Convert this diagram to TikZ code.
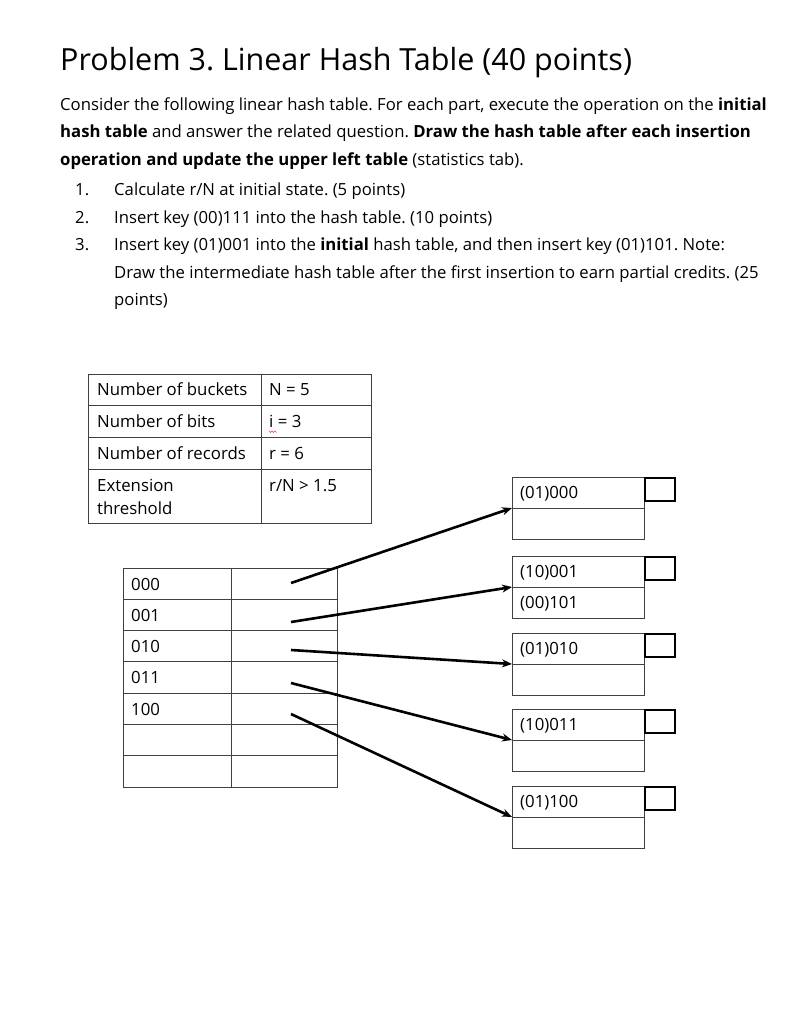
\documentclass[tikz,border=0pt]{standalone}
\usepackage{fontspec}
\setmainfont{Open Sans}
\usetikzlibrary{arrows.meta, positioning}
\frenchspacing

\begin{document}
\begin{tikzpicture}[x=1pt, y=-1pt,
  txt/.style={anchor=base west, inner sep=0pt, font=\fontsize{16.7}{20}\selectfont},
  tab/.style={anchor=base west, inner sep=0pt, font=\fontsize{16.8}{20}\selectfont},
  head/.style={anchor=base west, inner sep=0pt, font=\fontsize{30.5}{34}\selectfont},
  grid/.style={draw=black!75, line width=1pt},
  cell/.style={grid, anchor=north west, inner sep=0pt, outer sep=0pt, minimum height=31.3pt},
  bkt/.style={grid, anchor=north west, inner sep=0pt, outer sep=0pt, minimum width=132pt, minimum height=62pt},
  flag/.style={draw, line width=1.6pt, anchor=north west, inner sep=0pt, minimum width=30pt, minimum height=23pt},
  ptr/.style={line width=2.6pt, -{Stealth[length=10pt, width=8pt]}},
]
  \useasboundingbox[fill=white] (0,0) rectangle (811,1024);
  % --- heading and question text ---
  \node[head] (title) at (60,71) {Problem 3. Linear Hash Table (40 points)};
  \node[txt] (l1) at (60,111) {Consider the following linear hash table. For each part, execute the operation on the \textbf{initial}};
  \node[txt] (l2) at (60,138) {\textbf{hash table} and answer the related question. \textbf{Draw the hash table after each insertion}};
  \node[txt] (l3) at (60,166) {\textbf{operation and update the upper left table} (statistics tab).};
  \foreach \n/\y/\s in {1/196/{Calculate r/N at initial state. (5 points)},
                        2/223/{Insert key (00)111 into the hash table. (10 points)},
                        3/250/{Insert key (01)001 into the \textbf{initial} hash table, and then insert key (01)101. Note:}}{
    \node[txt] (n\n) at (75,\y) {\n.};
    \node[txt] (q\n) at (114,\y) {\s};
  }
  \node[txt] (q4) at (114,278) {Draw the intermediate hash table after the first insertion to earn partial credits. (25};
  \node[txt] (q5) at (114,305) {points)};

  % --- statistics table ---
  \draw[grid] (88,374) rectangle (371,523);
  \draw[grid] (261,374) -- (261,523);
  \foreach \y in {405,437,469} \draw[grid] (88,\y) -- (371,\y);
  \node[tab] (sk1) at (97,395) {Number of buckets};
  \node[tab] (sk2) at (97,427) {Number of bits};
  \node[tab] (sk3) at (97,459) {Number of records};
  \node[tab] (sk4) at (97,491) {Extension};
  \node[tab] (sk5) at (97,514) {threshold};
  \node[tab] (sv1) at (269,395) {N = 5};
  \node[tab] (sv2) at (269,427) {i = 3};
  \node[tab] (sv3) at (269,459) {r = 6};
  \node[tab] (sv4) at (269,491) {r/N > 1.5};
  \draw[red!80, line width=0.6pt] (269,431) -- ++(1.5,1.5) -- ++(1.5,-1.5) -- ++(1.5,1.5) -- ++(1.5,-1.5) -- ++(1.5,1.5);

  % --- directory ---
  \foreach \k [count=\i] in {000,001,010,011,100,{},{}}{
    \node[cell, minimum width=108pt] (kc\i) at (123,{568+31.3*(\i-1)}) {};
    \node[cell, minimum width=106pt] (pc\i) at (kc\i.north east) {};
    \node[tab] (kt\i) at ([xshift=8pt, yshift=-22pt]kc\i.north west) {\k};
  }
  \coordinate (p1) at (291,583);
  \coordinate (p2) at (291,622);
  \coordinate (p3) at (291,650);
  \coordinate (p4) at (291,683);
  \coordinate (p5) at (291,714);

  % --- buckets ---
  \foreach \r/\y/\t in {1/477/(01)000, 2/556/(10)001, 3/633/(01)010, 4/709/(10)011, 5/786/(01)100}{
    \node[bkt] (b\r) at (512,\y) {};
    \draw[grid] (b\r.west) -- (b\r.east);
    \node[flag] (f\r) at (b\r.north east) {};
    \node[tab] (bt\r) at ([xshift=8pt, yshift=-21pt]b\r.north west) {\t};
  }
  \node[tab] (bt6) at ([xshift=8pt, yshift=-21pt]b2.west) {(00)101};

  % --- pointers ---
  \foreach \r in {1,...,5} \draw[ptr] (p\r) -- (b\r.west);
\end{tikzpicture}
\end{document}
